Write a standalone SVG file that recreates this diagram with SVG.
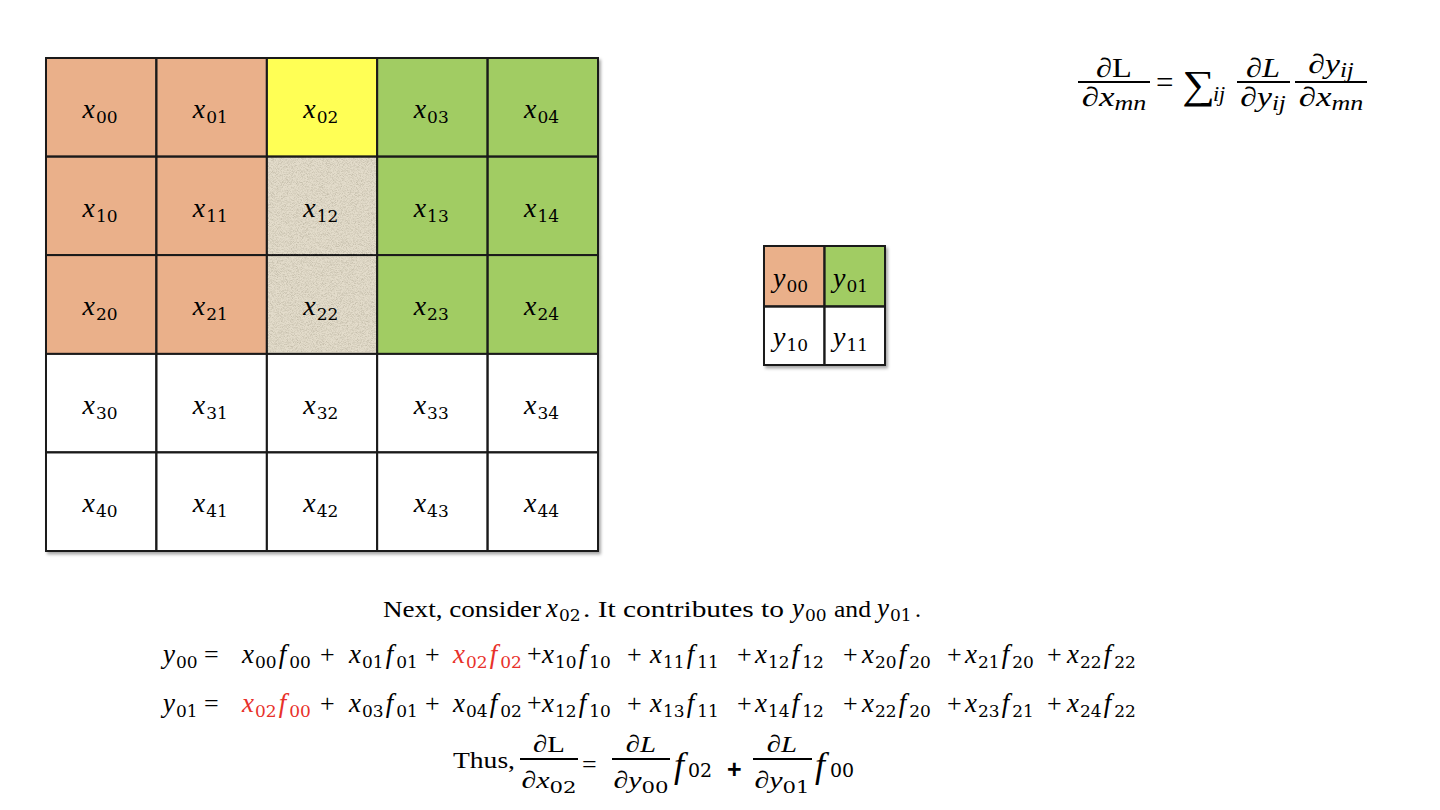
<svg xmlns="http://www.w3.org/2000/svg" width="1440" height="810" viewBox="0 0 1440 810">
<defs>
<style>
.or{fill:#EAB08A}.ye{fill:#FFFF55}.gr{fill:#A1CC63}.wh{fill:#FFFFFF}.tx{fill:#E3DCCB}
.cell{stroke:#1A1A1A;stroke-width:1.8}
.ln{fill:none;stroke:#1A1A1A;stroke-width:1.8}
.p{font-family:"Liberation Serif",serif;font-size:24px;fill:#000}
.i{font-family:"Liberation Serif",serif;font-style:italic;font-size:27px}
.ic{font-family:"Liberation Serif",serif;font-style:italic;font-size:28px}
.sb{font-family:"DejaVu Serif",serif;font-size:17px;font-style:normal}
.sc{font-family:"DejaVu Serif",serif;font-size:17px;font-style:normal}
.op{font-family:"Liberation Serif",serif;font-size:26px}
.red{fill:#E8312A}
.m{font-family:"Liberation Serif",serif;fill:#000}
.bar{fill:#000}
</style>
<filter id="sh" x="-10%" y="-10%" width="130%" height="130%">
<feDropShadow dx="2" dy="2.5" stdDeviation="1.5" flood-color="#000" flood-opacity="0.35"/>
</filter>
<filter id="noise" x="0" y="0" width="100%" height="100%">
<feTurbulence type="fractalNoise" baseFrequency="1.8 1.1" numOctaves="2" seed="7"/>
<feColorMatrix type="matrix" values="0 0 0 0 0.5  0 0 0 0 0.46  0 0 0 0 0.36  1.8 0 0 0 -0.72"/>
<feComposite in2="SourceAlpha" operator="in"/>
</filter>
</defs>
<rect width="1440" height="810" fill="#FFFFFF"/>

<g id="grid-x">
<g filter="url(#sh)">
<rect class="cell or" x="46" y="58" width="110.4" height="98.6"/>
<rect class="cell or" x="156.4" y="58" width="110.4" height="98.6"/>
<rect class="cell ye" x="266.8" y="58" width="110.4" height="98.6"/>
<rect class="cell gr" x="377.2" y="58" width="110.4" height="98.6"/>
<rect class="cell gr" x="487.6" y="58" width="110.4" height="98.6"/>
<rect class="cell or" x="46" y="156.6" width="110.4" height="98.6"/>
<rect class="cell or" x="156.4" y="156.6" width="110.4" height="98.6"/>
<rect class="cell tx" x="266.8" y="156.6" width="110.4" height="98.6"/>
<rect class="cell gr" x="377.2" y="156.6" width="110.4" height="98.6"/>
<rect class="cell gr" x="487.6" y="156.6" width="110.4" height="98.6"/>
<rect class="cell or" x="46" y="255.2" width="110.4" height="98.6"/>
<rect class="cell or" x="156.4" y="255.2" width="110.4" height="98.6"/>
<rect class="cell tx" x="266.8" y="255.2" width="110.4" height="98.6"/>
<rect class="cell gr" x="377.2" y="255.2" width="110.4" height="98.6"/>
<rect class="cell gr" x="487.6" y="255.2" width="110.4" height="98.6"/>
<rect class="cell wh" x="46" y="353.8" width="110.4" height="98.6"/>
<rect class="cell wh" x="156.4" y="353.8" width="110.4" height="98.6"/>
<rect class="cell wh" x="266.8" y="353.8" width="110.4" height="98.6"/>
<rect class="cell wh" x="377.2" y="353.8" width="110.4" height="98.6"/>
<rect class="cell wh" x="487.6" y="353.8" width="110.4" height="98.6"/>
<rect class="cell wh" x="46" y="452.4" width="110.4" height="98.6"/>
<rect class="cell wh" x="156.4" y="452.4" width="110.4" height="98.6"/>
<rect class="cell wh" x="266.8" y="452.4" width="110.4" height="98.6"/>
<rect class="cell wh" x="377.2" y="452.4" width="110.4" height="98.6"/>
<rect class="cell wh" x="487.6" y="452.4" width="110.4" height="98.6"/>
</g>
<rect x="267.7" y="157.5" width="108.6" height="195.4" fill="#000" filter="url(#noise)"/>
<path class="ln" d="M46 58H598V551H46Z M156.4 58V551 M266.8 58V551 M377.2 58V551 M487.6 58V551 M46 156.6H598 M46 255.2H598 M46 353.8H598 M46 452.4H598"/>
<g class="m" text-anchor="middle">
<text x="100" y="118"><tspan class="ic">x</tspan><tspan class="sc" dx="1" dy="5">00</tspan></text>
<text x="210.4" y="118"><tspan class="ic">x</tspan><tspan class="sc" dx="1" dy="5">01</tspan></text>
<text x="320.8" y="118"><tspan class="ic">x</tspan><tspan class="sc" dx="1" dy="5">02</tspan></text>
<text x="431.2" y="118"><tspan class="ic">x</tspan><tspan class="sc" dx="1" dy="5">03</tspan></text>
<text x="541.6" y="118"><tspan class="ic">x</tspan><tspan class="sc" dx="1" dy="5">04</tspan></text>
<text x="100" y="216.6"><tspan class="ic">x</tspan><tspan class="sc" dx="1" dy="5">10</tspan></text>
<text x="210.4" y="216.6"><tspan class="ic">x</tspan><tspan class="sc" dx="1" dy="5">11</tspan></text>
<text x="320.8" y="216.6"><tspan class="ic">x</tspan><tspan class="sc" dx="1" dy="5">12</tspan></text>
<text x="431.2" y="216.6"><tspan class="ic">x</tspan><tspan class="sc" dx="1" dy="5">13</tspan></text>
<text x="541.6" y="216.6"><tspan class="ic">x</tspan><tspan class="sc" dx="1" dy="5">14</tspan></text>
<text x="100" y="315.2"><tspan class="ic">x</tspan><tspan class="sc" dx="1" dy="5">20</tspan></text>
<text x="210.4" y="315.2"><tspan class="ic">x</tspan><tspan class="sc" dx="1" dy="5">21</tspan></text>
<text x="320.8" y="315.2"><tspan class="ic">x</tspan><tspan class="sc" dx="1" dy="5">22</tspan></text>
<text x="431.2" y="315.2"><tspan class="ic">x</tspan><tspan class="sc" dx="1" dy="5">23</tspan></text>
<text x="541.6" y="315.2"><tspan class="ic">x</tspan><tspan class="sc" dx="1" dy="5">24</tspan></text>
<text x="100" y="413.8"><tspan class="ic">x</tspan><tspan class="sc" dx="1" dy="5">30</tspan></text>
<text x="210.4" y="413.8"><tspan class="ic">x</tspan><tspan class="sc" dx="1" dy="5">31</tspan></text>
<text x="320.8" y="413.8"><tspan class="ic">x</tspan><tspan class="sc" dx="1" dy="5">32</tspan></text>
<text x="431.2" y="413.8"><tspan class="ic">x</tspan><tspan class="sc" dx="1" dy="5">33</tspan></text>
<text x="541.6" y="413.8"><tspan class="ic">x</tspan><tspan class="sc" dx="1" dy="5">34</tspan></text>
<text x="100" y="512.4"><tspan class="ic">x</tspan><tspan class="sc" dx="1" dy="5">40</tspan></text>
<text x="210.4" y="512.4"><tspan class="ic">x</tspan><tspan class="sc" dx="1" dy="5">41</tspan></text>
<text x="320.8" y="512.4"><tspan class="ic">x</tspan><tspan class="sc" dx="1" dy="5">42</tspan></text>
<text x="431.2" y="512.4"><tspan class="ic">x</tspan><tspan class="sc" dx="1" dy="5">43</tspan></text>
<text x="541.6" y="512.4"><tspan class="ic">x</tspan><tspan class="sc" dx="1" dy="5">44</tspan></text>
</g>
</g>

<g id="grid-y">
<g filter="url(#sh)">
<rect class="cell or" x="764" y="246" width="60.5" height="60.5"/>
<rect class="cell gr" x="824.5" y="246" width="60.5" height="60.5"/>
<rect class="cell wh" x="764" y="306.5" width="60.5" height="58.5"/>
<rect class="cell wh" x="824.5" y="306.5" width="60.5" height="58.5"/>
</g>
<path class="ln" d="M764 246H885V365H764Z M824.5 246V365 M764 306.5H885"/>
<g class="m">
<text x="773" y="287"><tspan class="ic">y</tspan><tspan class="sc" dx="1" dy="5">00</tspan></text>
<text x="833" y="287"><tspan class="ic">y</tspan><tspan class="sc" dx="1" dy="5">01</tspan></text>
<text x="773" y="346"><tspan class="ic">y</tspan><tspan class="sc" dx="1" dy="5">10</tspan></text>
<text x="833" y="346"><tspan class="ic">y</tspan><tspan class="sc" dx="1" dy="5">11</tspan></text>
</g>
</g>

<g id="formula-top" class="m" font-size="27">
<text transform="translate(1114 77) scale(1.2 1)" text-anchor="middle">∂L</text>
<rect class="bar" x="1078" y="81" width="72" height="2"/>
<text transform="translate(1114 106) scale(1.3 1)" text-anchor="middle">∂<tspan font-style="italic">x</tspan><tspan font-style="italic" font-size="20" dy="4">mn</tspan></text>
<text x="1156" y="93" font-size="31">=</text>
<text transform="translate(1182 98) scale(1.15 1)" font-size="40">∑</text>
<text x="1213" y="101" font-size="22" font-style="italic">ij</text>
<text transform="translate(1263 77) scale(1.2 1)" text-anchor="middle">∂<tspan font-style="italic">L</tspan></text>
<rect class="bar" x="1237" y="81" width="53" height="2"/>
<text transform="translate(1263 106) scale(1.25 1)" text-anchor="middle">∂<tspan font-style="italic">y</tspan><tspan font-style="italic" font-size="20" dy="4">ij</tspan></text>
<text transform="translate(1331 73) scale(1.25 1)" text-anchor="middle">∂<tspan font-style="italic">y</tspan><tspan font-style="italic" font-size="20" dy="4">ij</tspan></text>
<rect class="bar" x="1295" y="81" width="72" height="2"/>
<text transform="translate(1331 106) scale(1.3 1)" text-anchor="middle">∂<tspan font-style="italic">x</tspan><tspan font-style="italic" font-size="20" dy="4">mn</tspan></text>
</g>

<g id="text-next" class="m">
<text class="p" x="383" y="617" textLength="158" lengthAdjust="spacingAndGlyphs">Next, consider</text>
<text x="546" y="617"><tspan class="i" font-size="26">x</tspan><tspan class="sb" dx="1" dy="4">02</tspan></text>
<text class="p" x="583" y="617" textLength="201" lengthAdjust="spacingAndGlyphs">. It contributes to</text>
<text x="792" y="617"><tspan class="i" font-size="26">y</tspan><tspan class="sb" dx="1" dy="4">00</tspan></text>
<text class="p" x="834" y="617" textLength="37" lengthAdjust="spacingAndGlyphs">and</text>
<text x="877" y="617"><tspan class="i" font-size="26">y</tspan><tspan class="sb" dx="1" dy="4">01</tspan></text>
<text class="p" x="915" y="617">.</text>
</g>

<g id="eq-y00" class="m">
<text x="163" y="663"><tspan class="i">y</tspan><tspan class="sb" dx="1" dy="5">00</tspan></text>
<text class="op" x="204" y="663">=</text>
<text x="242" y="663"><tspan class="i">x</tspan><tspan class="sb" dx="1" dy="5">00</tspan><tspan class="i" dx="2" dy="-5">f</tspan><tspan class="sb" dx="3" dy="5">00</tspan></text>
<text class="op" x="320" y="663">+</text>
<text x="349" y="663"><tspan class="i">x</tspan><tspan class="sb" dx="1" dy="5">01</tspan><tspan class="i" dx="2" dy="-5">f</tspan><tspan class="sb" dx="3" dy="5">01</tspan></text>
<text class="op" x="425" y="663">+</text>
<text class="red" x="453" y="663"><tspan class="i">x</tspan><tspan class="sb" dx="1" dy="5">02</tspan><tspan class="i" dx="2" dy="-5">f</tspan><tspan class="sb" dx="3" dy="5">02</tspan></text>
<text class="op" x="527" y="662" font-size="19">+</text>
<text x="542" y="663"><tspan class="i">x</tspan><tspan class="sb" dx="1" dy="5">10</tspan><tspan class="i" dx="2" dy="-5">f</tspan><tspan class="sb" dx="3" dy="5">10</tspan></text>
<text class="op" x="627" y="663">+</text>
<text x="650" y="663"><tspan class="i">x</tspan><tspan class="sb" dx="1" dy="5">11</tspan><tspan class="i" dx="2" dy="-5">f</tspan><tspan class="sb" dx="3" dy="5">11</tspan></text>
<text class="op" x="737" y="663">+</text>
<text x="755" y="663"><tspan class="i">x</tspan><tspan class="sb" dx="1" dy="5">12</tspan><tspan class="i" dx="2" dy="-5">f</tspan><tspan class="sb" dx="3" dy="5">12</tspan></text>
<text class="op" x="843" y="663">+</text>
<text x="862" y="663"><tspan class="i">x</tspan><tspan class="sb" dx="1" dy="5">20</tspan><tspan class="i" dx="2" dy="-5">f</tspan><tspan class="sb" dx="3" dy="5">20</tspan></text>
<text class="op" x="947" y="663">+</text>
<text x="965" y="663"><tspan class="i">x</tspan><tspan class="sb" dx="1" dy="5">21</tspan><tspan class="i" dx="2" dy="-5">f</tspan><tspan class="sb" dx="3" dy="5">20</tspan></text>
<text class="op" x="1047" y="663">+</text>
<text x="1067" y="663"><tspan class="i">x</tspan><tspan class="sb" dx="1" dy="5">22</tspan><tspan class="i" dx="2" dy="-5">f</tspan><tspan class="sb" dx="3" dy="5">22</tspan></text>
</g>

<g id="eq-y01" class="m">
<text x="163" y="712"><tspan class="i">y</tspan><tspan class="sb" dx="1" dy="5">01</tspan></text>
<text class="op" x="204" y="712">=</text>
<text class="red" x="242" y="712"><tspan class="i">x</tspan><tspan class="sb" dx="1" dy="5">02</tspan><tspan class="i" dx="2" dy="-5">f</tspan><tspan class="sb" dx="3" dy="5">00</tspan></text>
<text class="op" x="320" y="712">+</text>
<text x="349" y="712"><tspan class="i">x</tspan><tspan class="sb" dx="1" dy="5">03</tspan><tspan class="i" dx="2" dy="-5">f</tspan><tspan class="sb" dx="3" dy="5">01</tspan></text>
<text class="op" x="425" y="712">+</text>
<text x="453" y="712"><tspan class="i">x</tspan><tspan class="sb" dx="1" dy="5">04</tspan><tspan class="i" dx="2" dy="-5">f</tspan><tspan class="sb" dx="3" dy="5">02</tspan></text>
<text class="op" x="527" y="711" font-size="19">+</text>
<text x="542" y="712"><tspan class="i">x</tspan><tspan class="sb" dx="1" dy="5">12</tspan><tspan class="i" dx="2" dy="-5">f</tspan><tspan class="sb" dx="3" dy="5">10</tspan></text>
<text class="op" x="627" y="712">+</text>
<text x="650" y="712"><tspan class="i">x</tspan><tspan class="sb" dx="1" dy="5">13</tspan><tspan class="i" dx="2" dy="-5">f</tspan><tspan class="sb" dx="3" dy="5">11</tspan></text>
<text class="op" x="737" y="712">+</text>
<text x="755" y="712"><tspan class="i">x</tspan><tspan class="sb" dx="1" dy="5">14</tspan><tspan class="i" dx="2" dy="-5">f</tspan><tspan class="sb" dx="3" dy="5">12</tspan></text>
<text class="op" x="843" y="712">+</text>
<text x="862" y="712"><tspan class="i">x</tspan><tspan class="sb" dx="1" dy="5">22</tspan><tspan class="i" dx="2" dy="-5">f</tspan><tspan class="sb" dx="3" dy="5">20</tspan></text>
<text class="op" x="947" y="712">+</text>
<text x="965" y="712"><tspan class="i">x</tspan><tspan class="sb" dx="1" dy="5">23</tspan><tspan class="i" dx="2" dy="-5">f</tspan><tspan class="sb" dx="3" dy="5">21</tspan></text>
<text class="op" x="1047" y="712">+</text>
<text x="1067" y="712"><tspan class="i">x</tspan><tspan class="sb" dx="1" dy="5">24</tspan><tspan class="i" dx="2" dy="-5">f</tspan><tspan class="sb" dx="3" dy="5">22</tspan></text>
</g>

<g id="eq-thus" class="m" font-size="24">
<text class="p" x="453" y="768" textLength="62" lengthAdjust="spacingAndGlyphs">Thus,</text>
<text transform="translate(549 752) scale(1.2 1)" text-anchor="middle">∂L</text>
<rect class="bar" x="520" y="758" width="58" height="2"/>
<text transform="translate(549 788) scale(1.25 1)" text-anchor="middle">∂<tspan font-style="italic">x</tspan><tspan class="sb" font-size="16" dy="5">02</tspan></text>
<text class="op" x="582" y="773">=</text>
<text transform="translate(641 752) scale(1.2 1)" text-anchor="middle">∂<tspan font-style="italic">L</tspan></text>
<rect class="bar" x="612" y="758" width="58" height="2"/>
<text transform="translate(641 788) scale(1.25 1)" text-anchor="middle">∂<tspan font-style="italic">y</tspan><tspan class="sb" font-size="16" dy="5">00</tspan></text>
<text x="674" y="777"><tspan font-style="italic" font-size="36">f</tspan><tspan font-family="DejaVu Serif" font-size="19" dx="4">02</tspan></text>
<text x="727" y="778" font-family="Liberation Sans" font-weight="bold" font-size="25">+</text>
<text transform="translate(782 752) scale(1.2 1)" text-anchor="middle">∂<tspan font-style="italic">L</tspan></text>
<rect class="bar" x="753" y="758" width="59" height="2"/>
<text transform="translate(782 788) scale(1.25 1)" text-anchor="middle">∂<tspan font-style="italic">y</tspan><tspan class="sb" font-size="16" dy="5">01</tspan></text>
<text x="815" y="777"><tspan font-style="italic" font-size="36">f</tspan><tspan font-family="DejaVu Serif" font-size="19" dx="5">00</tspan></text>
</g>
</svg>
